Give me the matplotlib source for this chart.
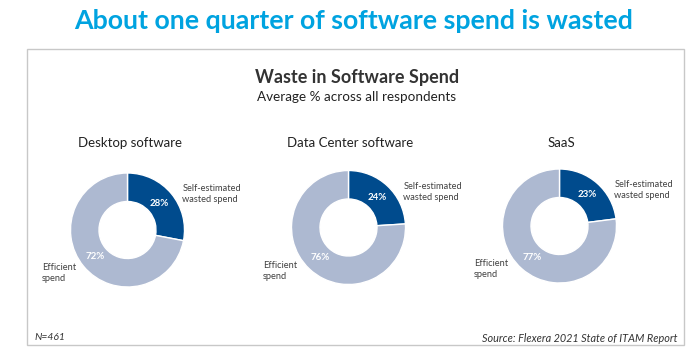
import matplotlib
matplotlib.use("Agg")
import matplotlib.pyplot as plt
from matplotlib.patches import Rectangle

plt.rcParams['font.family'] = ['Lato', 'DejaVu Sans']

categories = ["Desktop software", "Data Center software", "SaaS"]
wasted = [28, 24, 23]
efficient = [72, 76, 77]
wedge_labels = ["Self-estimated\nwasted spend", "Efficient\nspend"]

W, H = 698, 364
fig = plt.figure(figsize=(W / 100, H / 100), dpi=100)
fig.patch.set_facecolor("white")

# main title
fig.text(354 / W, 1 - 21 / H, "About one quarter of software spend is wasted",
         ha="center", va="center", fontsize=19.3, fontweight="bold", color="#00A3E0")

# box
box = Rectangle((27 / W, 1 - 345 / H), (684 - 27) / W, (345 - 49) / H,
                transform=fig.transFigure, facecolor="none",
                edgecolor="#C8C8C8", linewidth=1.0, zorder=-1)
fig.add_artist(box)

fig.text(357 / W, 1 - 77 / H, "Waste in Software Spend", ha="center", va="center",
         fontsize=13, fontweight="bold", color="#333333")
fig.text(357 / W, 1 - 97 / H, "Average % across all respondents", ha="center",
         va="center", fontsize=9.7, color="#222222")

centers = [(127.5, 230), (348.5, 227.5), (559.5, 226)]
title_y = [143, 143, 143]
r = 57
dark = "#004B8D"
light = "#ADB9D1"

for i, (cx, cy) in enumerate(centers):
    ax = fig.add_axes([(cx - r) / W, 1 - (cy + r) / H, 2 * r / W, 2 * r / H])
    wedges, texts, autotexts = ax.pie(
        [wasted[i], efficient[i]], colors=[dark, light], startangle=90,
        counterclock=False, radius=1.0,
        wedgeprops=dict(width=0.5, edgecolor="white", linewidth=1.0),
        autopct="%d%%", pctdistance=0.73,
        textprops=dict(color="white", fontsize=7, fontweight="bold"))
    ax.set_xlim(-1, 1)
    ax.set_ylim(-1, 1)
    ax.set_aspect("equal")
    ax.axis("off")
    ax.text(0.96, 0.63, wedge_labels[0], ha="left", va="center",
            fontsize=6.7, color="#404040", linespacing=1.3)
    ax.text(-1.5, -0.76, wedge_labels[1], ha="left", va="center",
            fontsize=6.7, color="#404040", linespacing=1.3)
    fig.text(cx / W + 2 / W, 1 - title_y[i] / H, categories[i], ha="center",
             va="center", fontsize=9.5, color="#222222")

fig.text(34 / W, 1 - 338 / H, "N=461", ha="left", va="center", fontsize=7.5,
         style="italic", color="#333333")
fig.text(678 / W, 1 - 338 / H, "Source: Flexera 2021 State of ITAM Report",
         ha="right", va="center", fontsize=7.8, style="italic", color="#333333")

fig.savefig("out.png", dpi=100)
